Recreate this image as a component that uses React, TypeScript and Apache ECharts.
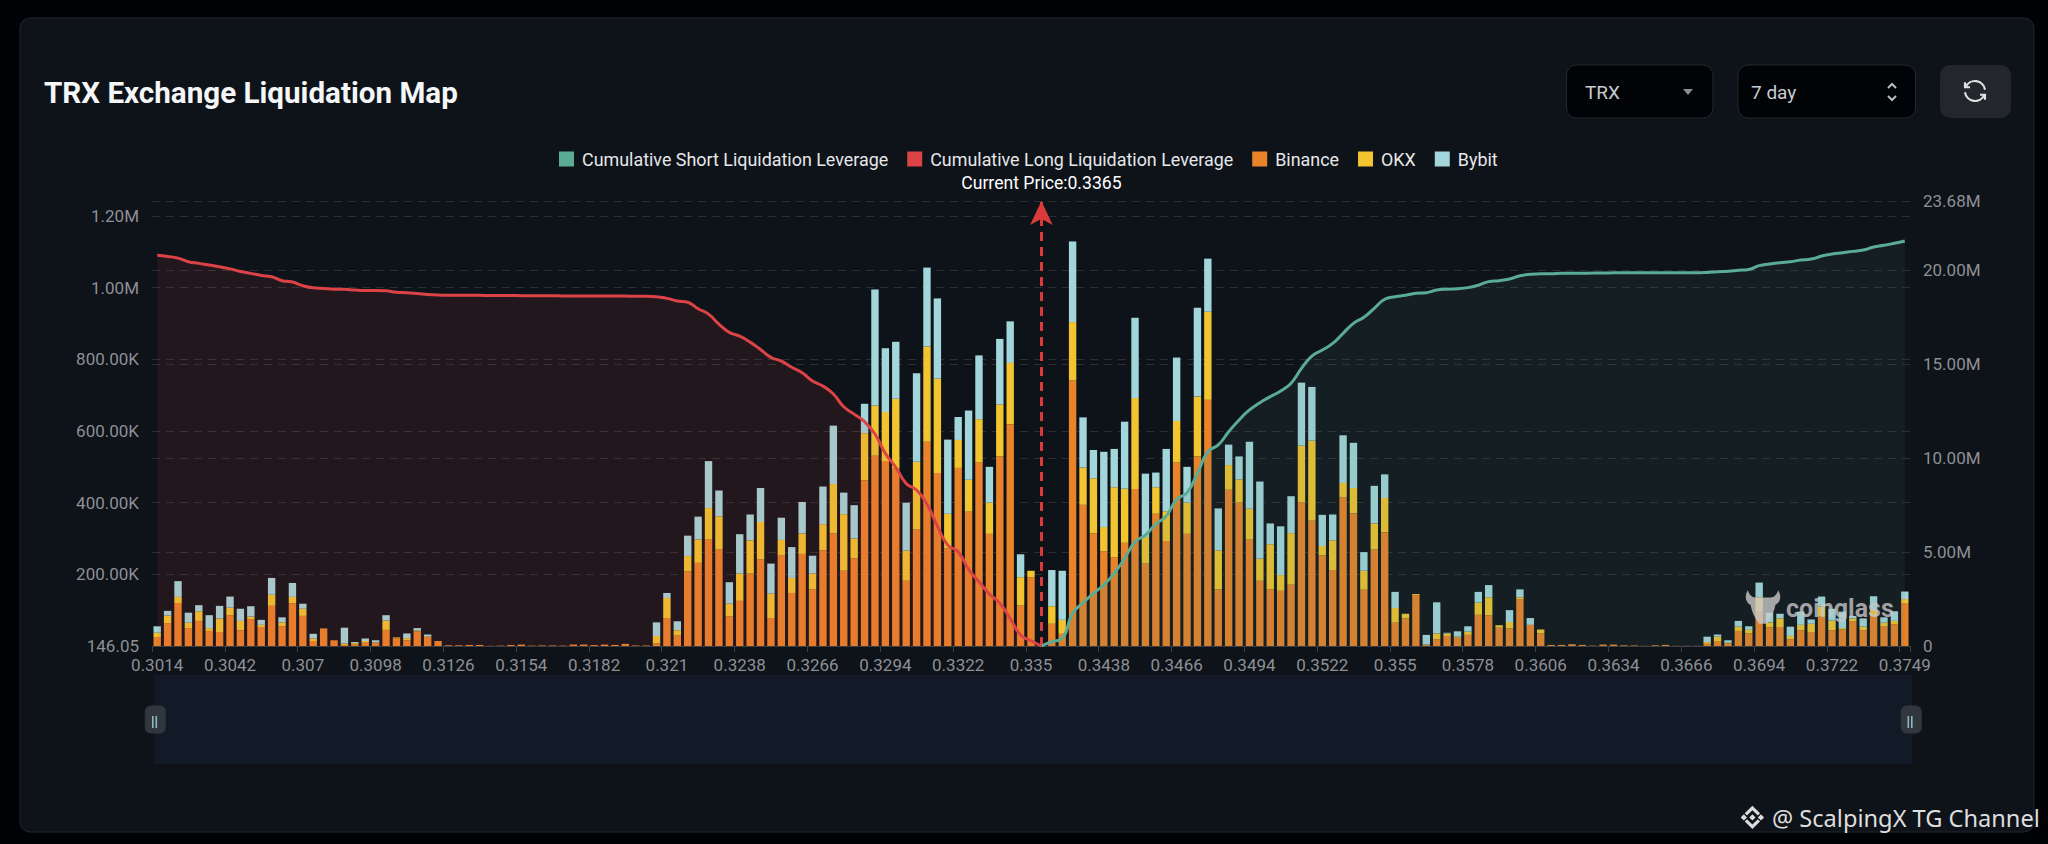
import { useEffect, useRef } from "react";
import * as echarts from "echarts";

// axis ticks, one label every 7 bars
const tickLabels = [
  "0.3014", "0.3042", "0.307", "0.3098", "0.3126", "0.3154", "0.3182", "0.321", "0.3238",
  "0.3266", "0.3294", "0.3322", "0.335", "0.3438", "0.3466", "0.3494", "0.3522", "0.355",
  "0.3578", "0.3606", "0.3634", "0.3666", "0.3694", "0.3722", "0.3749",
];

// liquidation leverage per price bin, in thousands
const binance = [
  25, 64, 120, 50, 70, 42, 39, 86, 44, 75,
  53, 112, 55, 119, 84, 14, 48, 16, 3, 4,
  9, 9, 45, 21, 16, 41, 25, 14, 2, 2,
  3, 3, 0.5, 1, 3, 4, 1, 1.5, 1.5, 1,
  4, 4, 2.5, 4, 3, 6, 1.5, 1.5, 7, 78,
  29, 208, 232, 297, 269, 83, 126, 202, 241, 78,
  253, 148, 257, 158, 267, 314, 210, 245, 462, 531,
  516, 495, 182, 325, 570, 483, 272, 497, 375, 512,
  313, 529, 619, 113, 192, 0, 62, 34, 741, 394,
  314, 264, 248, 288, 438, 230, 369, 293, 512, 313,
  529, 687, 158, 436, 400, 297, 182, 158, 154, 171,
  401, 350, 253, 212, 415, 370, 157, 269, 317, 65,
  77, 142, 4, 19, 28, 23, 31, 87, 86, 51,
  49, 131, 59, 35, 3, 3, 5, 3, 1, 4,
  4, 2, 1.5, 0.5, 2, 3, 0.5, 0.5, 0.5, 6,
  14, 7, 42, 35, 96, 52, 53, 19, 44, 39,
  82, 44, 46, 68, 44, 84, 54, 61, 120,
];
const okx = [
  12, 21, 17, 15, 27, 8, 38, 21, 26, 7,
  6, 31, 11, 18, 20, 7, 1, 0, 4, 4,
  5, 1, 26, 3, 6, 2, 2, 0, 0, 0,
  0, 0, 0, 0, 0, 0, 0, 0, 0, 0,
  0, 0, 0, 0, 0, 0, 0, 0, 21, 56,
  15, 43, 65, 88, 93, 35, 76, 93, 105, 68,
  43, 42, 57, 44, 73, 138, 158, 55, 132, 140,
  137, 195, 84, 189, 266, 263, 97, 78, 89, 121,
  87, 145, 171, 79, 18, 0, 49, 39, 163, 104,
  154, 68, 195, 151, 254, 74, 74, 83, 116, 87,
  167, 246, 109, 69, 65, 86, 62, 126, 44, 144,
  158, 223, 26, 83, 40, 71, 53, 73, 96, 41,
  13, 3, 0, 16, 7, 3, 9, 34, 50, 7,
  18, 5, 0, 11, 0, 0, 0, 0, 0, 0,
  0, 0, 0, 0, 0, 0, 0, 0, 0, 5,
  12, 2, 12, 10, 40, 14, 24, 9, 15, 23,
  28, 27, 4, 9, 10, 17, 11, 9, 11,
];
const bybit = [
  18, 13, 44, 28, 17, 36, 35, 31, 34, 29,
  14, 47, 14, 39, 14, 13, 0, 0, 44, 3,
  7, 6, 15, 0, 13, 7, 5, 0, 0, 0,
  0, 0, 0, 0, 0, 0, 0, 0, 0, 0,
  0, 0, 0, 0, 0, 0, 0, 0, 38, 14,
  25, 57, 64, 131, 72, 60, 110, 72, 95, 84,
  62, 86, 88, 50, 105, 163, 60, 93, 82, 324,
  178, 159, 134, 247, 220, 224, 207, 64, 193, 178,
  100, 183, 116, 64, 0, 0, 101, 137, 225, 140,
  79, 210, 107, 187, 224, 177, 41, 174, 177, 100,
  248, 148, 117, 57, 64, 187, 215, 58, 136, 103,
  176, 150, 87, 72, 133, 126, 52, 105, 66, 45,
  0, 0, 27, 87, 2, 15, 15, 30, 34, 0,
  33, 22, 19, 0, 0, 0, 0, 0, 0, 0,
  0, 0, 0, 0, 0, 0, 0, 0, 0, 15,
  6, 7, 16, 10, 41, 27, 13, 26, 37, 12,
  28, 33, 46, 7, 23, 38, 15, 27, 21,
];

// cumulative lines, in millions. long runs from the first bin down to the current price bin
const cumulativeLong = [
  20.79, 20.73, 20.64, 20.45, 20.36, 20.27, 20.18, 20.07, 19.93, 19.83,
  19.72, 19.65, 19.44, 19.37, 19.17, 19.06, 19.03, 18.99, 18.98, 18.94,
  18.92, 18.92, 18.9, 18.82, 18.8, 18.76, 18.71, 18.68, 18.67, 18.67,
  18.66, 18.66, 18.65, 18.65, 18.65, 18.64, 18.64, 18.64, 18.64, 18.63,
  18.63, 18.63, 18.63, 18.62, 18.62, 18.62, 18.61, 18.61, 18.59, 18.5,
  18.36, 18.29, 17.95, 17.66, 17.13, 16.69, 16.49, 16.17, 15.78, 15.36,
  15.16, 14.83, 14.54, 14.1, 13.83, 13.41, 12.73, 12.34, 11.94, 11.28,
  10.25, 9.51, 8.65, 8.3, 7.55, 6.38, 5.37, 5.02, 4.08, 3.42,
  2.77, 2.27, 1.47, 0.58, 0.28, 0,
];
// short starts at the current price bin
const cumulativeShort = [
  0, 0.23, 0.41, 1.74, 2.3, 2.8, 3.25, 3.87, 4.66, 5.55,
  5.9, 6.49, 6.92, 7.8, 8.16, 9.19, 10.34, 10.7, 11.4, 12.03,
  12.56, 12.95, 13.27, 13.57, 13.98, 14.77, 15.43, 15.75, 16.1, 16.64,
  17.17, 17.49, 17.97, 18.45, 18.59, 18.66, 18.77, 18.8, 18.94, 18.99,
  19.01, 19.07, 19.2, 19.39, 19.44, 19.53, 19.7, 19.78, 19.81, 19.81,
  19.83, 19.83, 19.83, 19.85, 19.85, 19.86, 19.86, 19.86, 19.86, 19.86,
  19.86, 19.86, 19.86, 19.86, 19.88, 19.92, 19.94, 19.99, 20.04, 20.24,
  20.33, 20.4, 20.45, 20.54, 20.59, 20.75, 20.86, 20.93, 21, 21.07,
  21.23, 21.32, 21.43, 21.55,
];

const currentPriceIndex = 85;
const leftAxisMax = 1241860;
const rightAxisMax = 23680000;

const FONT = "Roboto, sans-serif";
const GRID_LINE = { color: "#2b2f33", type: [8, 6] as number[], width: 1 };

echarts.graphic.registerShape(
  "refreshIcon",
  echarts.graphic.extendPath(
    "M20 11A8.1 8.1 0 0 0 4.5 9M4 5v4h4M4 13a8.1 8.1 0 0 0 15.5 2m.5 4v-4h-4",
    {}
  )
);
echarts.graphic.registerShape(
  "bullIcon",
  echarts.graphic.extendPath(
    "M4 4C6 10 10 11 13 11L27 11C30 11 34 10 36 4C40 10 38 16 33 18C32 24 29 30 24 36L16 36C11 30 8 24 7 18C2 16 0 10 4 4Z",
    {}
  )
);
echarts.graphic.registerShape(
  "binanceIcon",
  echarts.graphic.extendPath(
    "M16 12.5L19.5 16L16 19.5L12.5 16ZM6.5 12.5L10 16L6.5 19.5L3 16ZM25.5 12.5L29 16L25.5 19.5L22 16ZM16 3L24.5 11.5L22 14L16 8L10 14L7.5 11.5ZM16 29L24.5 20.5L22 18L16 24L10 18L7.5 20.5Z",
    {}
  )
);

function formatLeft(value: number) {
  if (value === 0) return "146.05";
  if (value >= leftAxisMax) return "";
  if (value >= 1000000) return (value / 1000000).toFixed(2) + "M";
  return (value / 1000).toFixed(2) + "K";
}

function formatRight(value: number) {
  return value === 0 ? "0" : (value / 1000000).toFixed(2) + "M";
}

function barSeries(name: string, values: number[], color: string) {
  return {
    name,
    type: "bar",
    stack: "liquidation",
    yAxisIndex: 0,
    barWidth: 7.4,
    itemStyle: { color },
    data: values.map((v) => v * 1000),
  };
}

function lineSeries(
  name: string,
  values: (number | null)[],
  color: string,
  areaColor: string,
  areaOpacity: number
) {
  return {
    name,
    type: "line",
    yAxisIndex: 1,
    smooth: true,
    showSymbol: false,
    lineStyle: { color, width: 3 },
    itemStyle: { color },
    areaStyle: { color: areaColor, opacity: areaOpacity },
    z: 5,
    data: values.map((v) => (v === null ? null : v * 1000000)),
  };
}

function headerGraphics() {
  const box = { fill: "#010307", stroke: "#24272b", lineWidth: 1 };
  return [
    {
      type: "rect",
      z: -10,
      shape: { x: 20, y: 18, width: 2014, height: 814, r: 10 },
      style: { fill: "#0e1219", stroke: "#22262b", lineWidth: 1 },
    },
    {
      type: "text",
      x: 44,
      y: 93,
      style: {
        text: "TRX Exchange Liquidation Map",
        fill: "#f4f6f8",
        font: `700 29.6px ${FONT}`,
        textVerticalAlign: "middle",
      },
    },
    { type: "rect", shape: { x: 1566.5, y: 65, width: 146.5, height: 53, r: 10 }, style: box },
    { type: "rect", shape: { x: 1738, y: 65, width: 177.5, height: 53, r: 10 }, style: box },
    { type: "rect", shape: { x: 1940, y: 65, width: 71, height: 53, r: 10 }, style: { fill: "#23262b" } },
    {
      type: "text",
      x: 1585,
      y: 92,
      style: { text: "TRX", fill: "#c9ccd0", font: `400 19px ${FONT}`, textVerticalAlign: "middle" },
    },
    {
      type: "text",
      x: 1751,
      y: 92,
      style: { text: "7 day", fill: "#c9ccd0", font: `400 19px ${FONT}`, textVerticalAlign: "middle" },
    },
    {
      type: "polygon",
      shape: { points: [[1683, 89], [1693, 89], [1688, 95]] },
      style: { fill: "#8b8e92" },
    },
    {
      type: "polyline",
      shape: { points: [[1888, 88], [1892, 84], [1896, 88]] },
      style: { stroke: "#b8bbbf", lineWidth: 2, fill: "none" },
    },
    {
      type: "polyline",
      shape: { points: [[1888, 96], [1892, 100], [1896, 96]] },
      style: { stroke: "#b8bbbf", lineWidth: 2, fill: "none" },
    },
    {
      type: "refreshIcon",
      x: 1960,
      y: 76,
      scaleX: 1.25,
      scaleY: 1.25,
      style: { stroke: "#dfe1e3", lineWidth: 1.7, fill: "none" },
    },
    // slider handle grips
    ...[154.5, 1910].flatMap((x) => [
      { type: "rect", z: 100, shape: { x: x - 2.5, y: 716, width: 1.6, height: 12 }, style: { fill: "#8fb6c2" } },
      { type: "rect", z: 100, shape: { x: x + 1, y: 716, width: 1.6, height: 12 }, style: { fill: "#8fb6c2" } },
    ]),
    // coinglass watermark
    {
      type: "bullIcon",
      z: 100,
      x: 1744,
      y: 586,
      scaleX: 0.95,
      scaleY: 1.05,
      style: { fill: "rgba(205,205,205,0.78)" },
    },
    {
      type: "text",
      z: 100,
      x: 1786,
      y: 608,
      style: {
        text: "coinglass",
        fill: "rgba(200,200,200,0.8)",
        font: `700 25px ${FONT}`,
        textVerticalAlign: "middle",
      },
    },
    // channel tag, lower right corner
    {
      type: "binanceIcon",
      z: 100,
      x: 1738,
      y: 803,
      scaleX: 0.9,
      scaleY: 0.9,
      style: { fill: "#dcdcdc" },
    },
    {
      type: "text",
      z: 100,
      x: 1772,
      y: 818,
      style: {
        text: "@ ScalpingX TG Channel",
        fill: "#dedede",
        font: `400 23.6px "Noto Sans", sans-serif`,
        textVerticalAlign: "middle",
      },
    },
  ];
}

export default function App() {
  const chartRef = useRef<HTMLDivElement>(null);

  useEffect(() => {
    if (!chartRef.current) return;
    document.body.style.margin = "0";
    document.body.style.background = "#010206";

    const chart = echarts.init(chartRef.current, undefined, { renderer: "svg" });
    const categories = binance.map((_, i) => (i % 7 === 0 ? tickLabels[i / 7] : ""));
    const longData = [
      ...cumulativeLong,
      ...new Array(binance.length - cumulativeLong.length).fill(null),
    ];
    const shortData = [
      ...new Array(binance.length - cumulativeShort.length).fill(null),
      ...cumulativeShort,
    ];

    const binanceBars = barSeries("Binance", binance, "#e8832a");

    chart.setOption({
      animation: false,
      backgroundColor: "transparent",
      textStyle: { fontFamily: FONT },
      graphic: headerGraphics(),
      legend: {
        left: 554,
        top: 145,
        itemWidth: 15,
        itemHeight: 15,
        itemGap: 19,
        icon: "rect",
        textStyle: { color: "#e6e8ea", fontSize: 17.9, fontFamily: FONT, padding: [0, 0, 0, 3] },
        data: [
          "Cumulative Short Liquidation Leverage",
          "Cumulative Long Liquidation Leverage",
          "Binance",
          "OKX",
          "Bybit",
        ],
      },
      grid: { left: 152, top: 201, width: 1758, height: 445 },
      xAxis: {
        type: "category",
        data: categories,
        axisLine: { lineStyle: { color: "#3c4044" } },
        axisTick: { show: true, interval: 6, length: 6, lineStyle: { color: "#3c4044" } },
        axisLabel: { interval: 6, color: "#8d9094", fontSize: 17, margin: 10, hideOverlap: false },
      },
      yAxis: [
        {
          type: "value",
          min: 0,
          max: leftAxisMax,
          interval: 200000,
          axisLine: { show: false },
          axisTick: { show: false },
          axisLabel: { color: "#8d9094", fontSize: 17, margin: 13, formatter: formatLeft },
          splitLine: { lineStyle: GRID_LINE },
        },
        {
          type: "value",
          position: "right",
          min: 0,
          max: rightAxisMax,
          interval: 5000000,
          axisLine: { show: false },
          axisTick: { show: false },
          axisLabel: { color: "#8d9094", fontSize: 17, margin: 13, formatter: formatRight },
          splitLine: { lineStyle: GRID_LINE },
        },
      ],
      dataZoom: [
        {
          type: "slider",
          xAxisIndex: 0,
          start: 0,
          end: 100,
          left: 153,
          width: 1758,
          top: 675,
          height: 89,
          showDetail: false,
          showDataShadow: false,
          brushSelect: false,
          moveHandleSize: 0,
          backgroundColor: "transparent",
          borderColor: "transparent",
          fillerColor: "#121a28",
          handleIcon: "path://M6,0 L14,0 Q20,0 20,6 L20,21 Q20,27 14,27 L6,27 Q0,27 0,21 L0,6 Q0,0 6,0 Z",
          handleSize: 27,
          handleStyle: { color: "#32373e", borderColor: "#32373e" },
        },
      ],
      series: [
        lineSeries("Cumulative Short Liquidation Leverage", shortData, "#5bac94", "#4b7869", 0.12),
        lineSeries("Cumulative Long Liquidation Leverage", longData, "#dc4347", "#dc4347", 0.1),
        {
          ...binanceBars,
          markLine: {
            silent: true,
            symbol: ["none", "arrow"],
            symbolSize: [17, 24],
            lineStyle: { color: "#d93a3a", type: [9, 6], width: 3 },
            label: {
              show: true,
              position: "end",
              distance: 9,
              color: "#ffffff",
              fontSize: 17.6,
              fontFamily: FONT,
              formatter: "Current Price:0.3365",
            },
            data: [
              [
                { xAxis: currentPriceIndex, yAxis: 0 },
                { xAxis: currentPriceIndex, yAxis: leftAxisMax },
              ],
            ],
          },
        },
        barSeries("OKX", okx, "#f1c430"),
        barSeries("Bybit", bybit, "#a3d6db"),
      ],
    });

    return () => {
      chart.dispose();
    };
  }, []);

  return <div ref={chartRef} style={{ width: 2048, height: 844 }} />;
}
